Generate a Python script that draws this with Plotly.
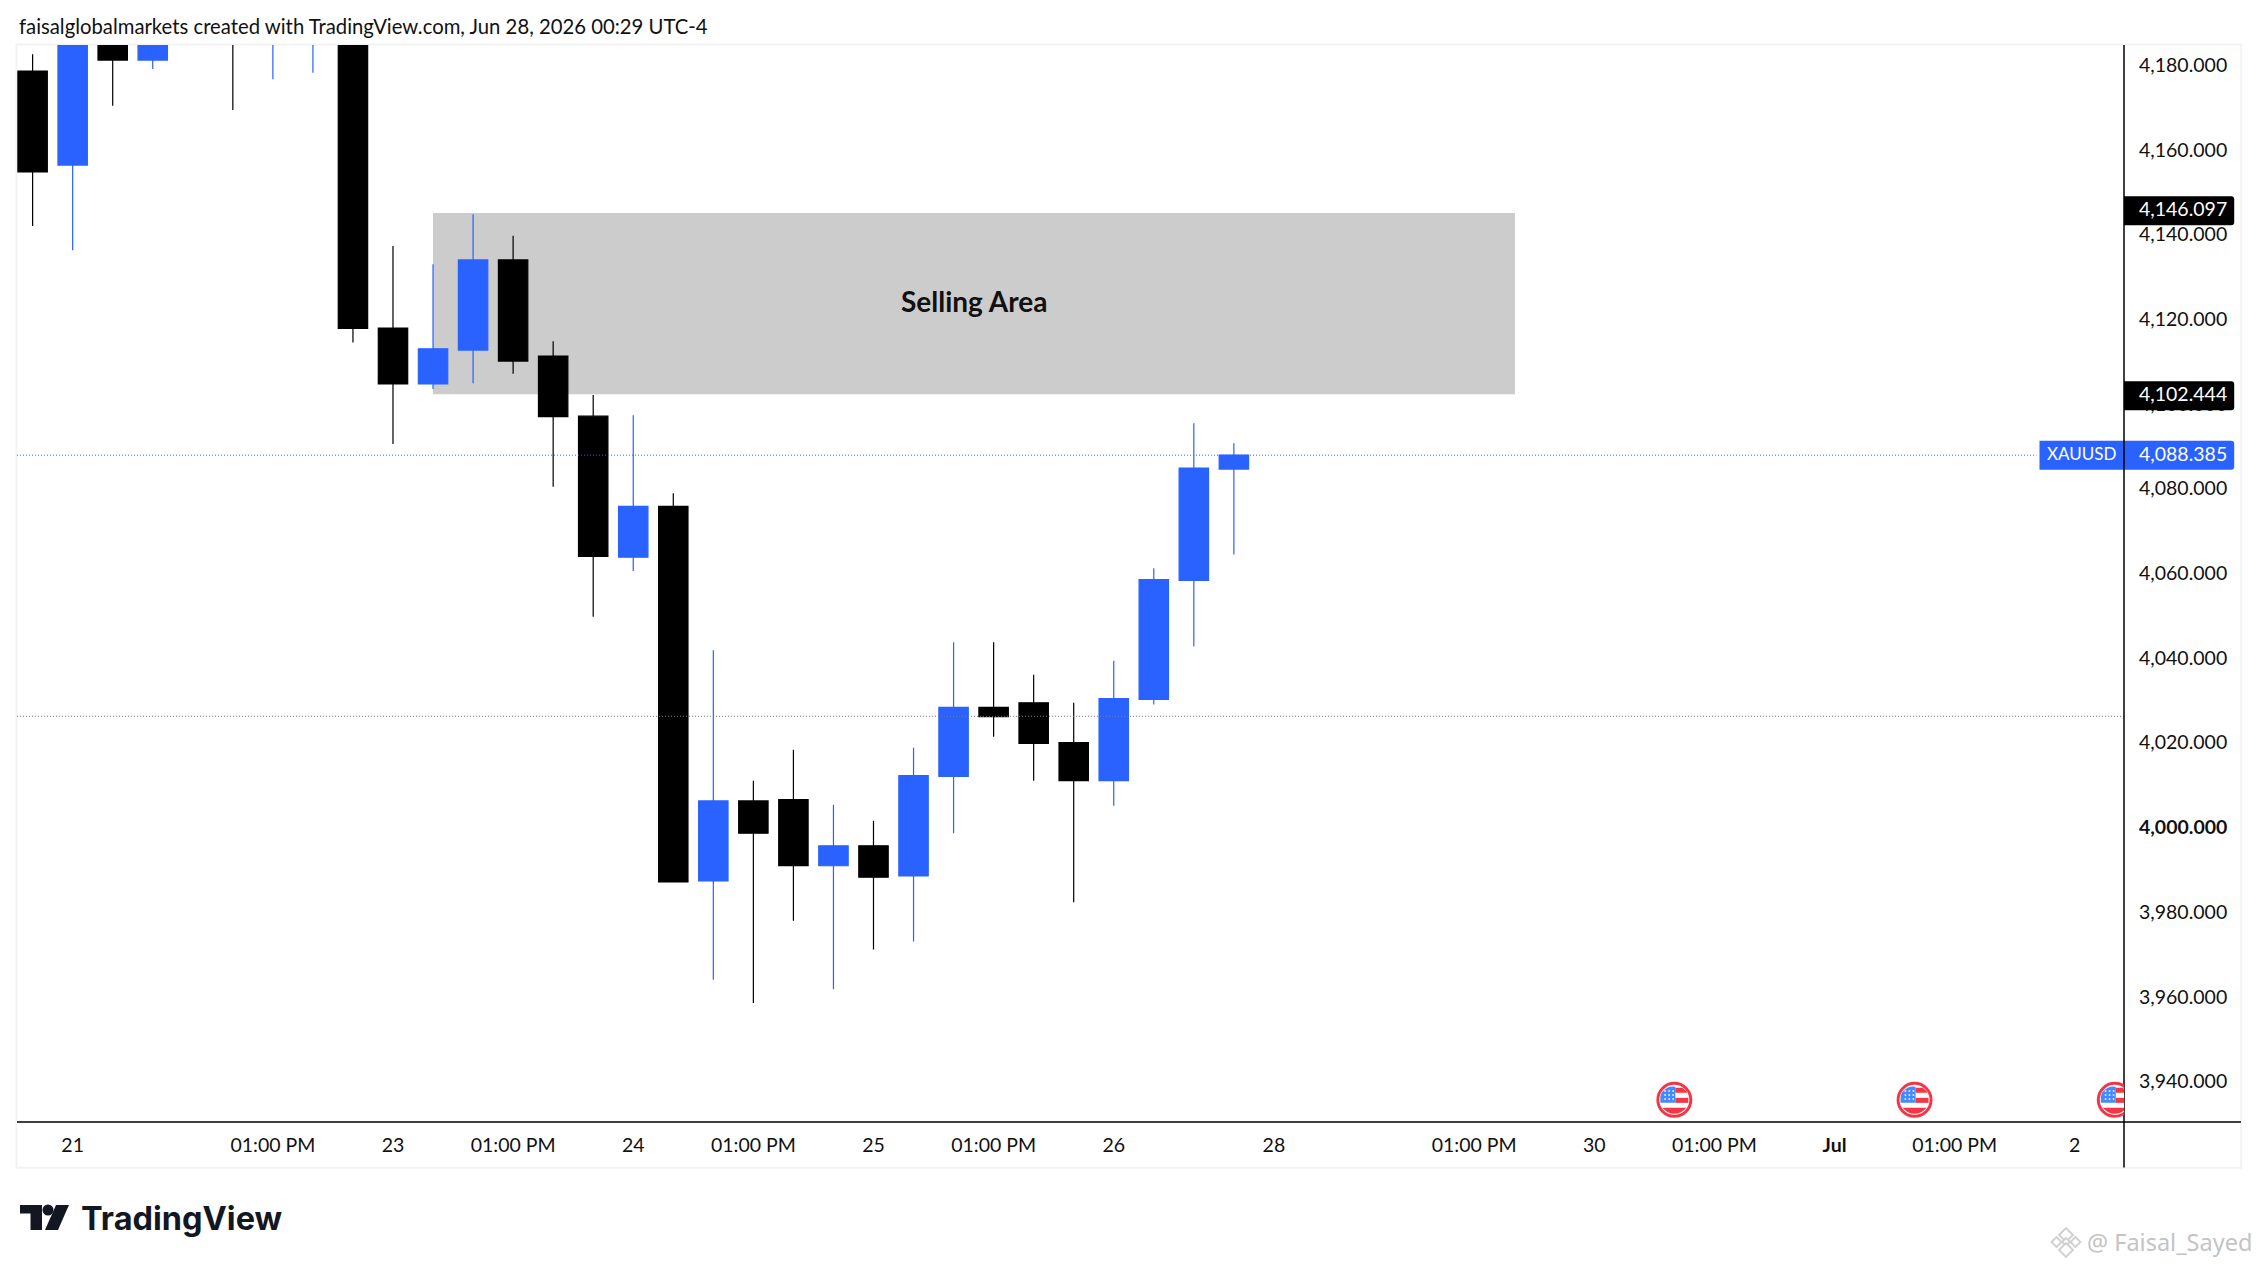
import plotly.graph_objects as go

W, H = 2259, 1267
L, R, T, B = 17, 2124.5, 45, 1122

idx = list(range(31))
opens = [4179.1, 4156.9, 4192.0, 4181.7, 4210.0, 4215.0, 4200.0, 4205.0, 4205.0, 4118.4, 4105.2, 4113.2, 4134.5, 4111.8, 4097.6, 4064.3,
         4076.3, 3987.8, 4006.7, 4007.0, 3991.4, 3996.1, 3989.0, 4012.5, 4028.8, 4029.9, 4020.5, 4011.5, 4030.7, 4058.8, 4085.1]
highs = [4183.1, 4195.0, 4198.0, 4200.0, 4222.0, 4225.0, 4230.0, 4235.0, 4208.0, 4137.8, 4133.5, 4145.3, 4140.2, 4115.3, 4102.6, 4097.8,
         4079.4, 4042.3, 4011.5, 4018.8, 4005.8, 4002.0, 4019.3, 4044.2, 4044.2, 4036.5, 4029.9, 4039.8, 4061.7, 4095.95, 4091.2]
lows = [4142.5, 4136.8, 4170.9, 4179.6, 4195.0, 4169.9, 4177.2, 4178.7, 4115.0, 4091.0, 4104.0, 4105.4, 4107.6, 4080.9, 4050.2, 4061.0,
        3987.6, 3964.5, 3959.0, 3978.4, 3962.2, 3971.6, 3973.5, 3999.1, 4021.9, 4011.5, 3982.8, 4005.6, 4029.5, 4043.2, 4064.9]
closes = [4155.3, 4190.0, 4181.7, 4195.0, 4200.0, 4205.0, 4215.0, 4220.0, 4118.3, 4105.2, 4113.5, 4134.5, 4110.6, 4097.5, 4064.5, 4076.3,
          3987.6, 4006.7, 3999.1, 3991.4, 3996.1, 3988.7, 4012.7, 4028.8, 4026.6, 4020.3, 4011.5, 4030.9, 4059.0, 4085.35, 4088.385]

price_ticks = [3940, 3960, 3980, 4000, 4020, 4040, 4060, 4080, 4100, 4120, 4140, 4160, 4180]
price_labels = ['3,940.000', '3,960.000', '3,980.000', '<b>4,000.000</b>', '4,020.000', '4,040.000', '4,060.000', '4,080.000',
                '4,100.000', '4,120.000', '4,140.000', '4,160.000', '4,180.000']
time_ticks = [1, 6, 9, 12, 15, 18, 21, 24, 27, 31, 36, 39, 42, 45, 48, 51]
time_labels = ['21', '01:00 PM', '23', '01:00 PM', '24', '01:00 PM', '25', '01:00 PM', '26', '28', '01:00 PM', '30', '01:00 PM',
               '<b>Jul</b>', '01:00 PM', '2']

zone_left, zone_right = 10.0, 37.02
zone_top, zone_bottom = 4145.6, 4102.8
last_price = 4088.385
grey_level = 4026.7
flag_idx = [41, 47, 52]
flag_y = 3936.1

BLUE = '#2962FF'
FONT = 'Lato'
INK = '#111111'


def fx(px):
    return (px - L) / (R - L)


def fy(py):
    return (B - py) / (B - T)


def page_rect(x0, y0, x1, y1, **kw):
    return dict(type='rect', xref='paper', yref='paper', x0=fx(x0), x1=fx(x1), y0=fy(y0), y1=fy(y1), **kw)


def page_line(x0, y0, x1, y1, color, width=1.5):
    return dict(type='line', xref='paper', yref='paper', x0=fx(x0), x1=fx(x1), y0=fy(y0), y1=fy(y1),
                line=dict(color=color, width=width))


def page_path(points, color):
    d = 'M' + ' L'.join(f'{fx(a):.5f},{fy(b):.5f}' for a, b in points) + ' Z'
    return dict(type='path', xref='paper', yref='paper', path=d, fillcolor=color, line=dict(width=0))


def page_text(x, y, text, size, color=INK, anchor='left', family=FONT):
    return dict(xref='paper', yref='paper', x=fx(x), y=fy(y), text=text, showarrow=False, xanchor=anchor, yanchor='middle',
                font=dict(family=family, size=size, color=color))


def pill(value, x0, x1, color):
    # rounded on the right, flat against the axis unless it starts further left
    a, b = x0 - R, x1 - R
    return dict(type='path', layer='above', xref='paper', yref='y', xsizemode='pixel', xanchor=1, ysizemode='pixel', yanchor=value,
                path=f'M{a},-14.5 L{b - 3},-14.5 Q{b},-14.5 {b},-11.5 L{b},11.5 Q{b},14.5 {b - 3},14.5 L{a},14.5 Z',
                fillcolor=color, line=dict(width=0))


def flag_shapes(i):
    # small US flag calendar badge, offsets in pixels from the marker centre
    red, blue = '#F23645', '#448AFF'
    base = dict(type='path', layer='above', xref='x', yref='y', xsizemode='pixel', xanchor=i, ysizemode='pixel', yanchor=flag_y,
                line=dict(width=0))
    out = [dict(type='circle', layer='above', xref='x', yref='y', xsizemode='pixel', xanchor=i, ysizemode='pixel', yanchor=flag_y,
                x0=-16.5, x1=16.5, y0=-16.5, y1=16.5, fillcolor='white', line=dict(color=red, width=3))]
    out.append(dict(base, path='M1,12 L8,12 Q12,9 13,7 L1,7 Z', fillcolor=red))
    out.append(dict(base, path='M1,2 L14,2 L14,-3 L1,-3 Z', fillcolor=red))
    out.append(dict(base, path='M-12,-8 L12,-8 Q7,-14 0,-14 Q-7,-14 -12,-8 Z', fillcolor=red))
    out.append(dict(base, path='M1,13 L1,-3 L-14,-3 L-14,3 Q-13,9 -7,12 Q-3,14 1,13 Z', fillcolor=blue))
    stars = ''
    for sx in (-10, -6, -2):
        for sy in (0, 4, 8):
            stars += f'M{sx},{sy} L{sx + 1.6},{sy} L{sx + 1.6},{sy + 1.6} L{sx},{sy + 1.6} Z '
    out.append(dict(base, path=stars, fillcolor='white'))
    return out


fig = go.Figure(go.Candlestick(
    x=idx, open=opens, high=highs, low=lows, close=closes,
    increasing=dict(line=dict(color=BLUE, width=1.2), fillcolor=BLUE),
    decreasing=dict(line=dict(color='#000000', width=1.2), fillcolor='#000000'),
    hoverinfo='skip', showlegend=False,
))

shapes = [
    page_rect(16.5, 44.5, 2241.7, 1167.7, line=dict(color='#F3F3F3', width=2), layer='below'),
    dict(type='rect', layer='below', xref='x', yref='y', x0=zone_left, x1=zone_right, y0=zone_bottom, y1=zone_top,
         fillcolor='#CCCCCC', line=dict(width=0)),
    dict(type='line', layer='above', xref='paper', yref='y', x0=0, x1=1, y0=grey_level, y1=grey_level,
         line=dict(color='#787B86', width=1, dash='1px 2px')),
    dict(type='line', layer='above', xref='paper', yref='y', x0=0, x1=fx(2037), y0=last_price, y1=last_price,
         line=dict(color=BLUE, width=1, dash='1px 2px')),
    pill(4146.097, R, 2234.7, '#000000'),
    pill(4102.444, R, 2234.7, '#000000'),
    pill(last_price, 2040, 2234.7, BLUE),
    page_line(R, T, R, 1167.5, '#000000'),
    page_line(L, B, 2241.5, B, '#000000'),
    # logo
    page_path([(20, 1205), (42, 1205), (42, 1230), (30.5, 1230), (30.5, 1213.5), (20, 1213.5)], '#131722'),
    dict(type='circle', xref='paper', yref='paper', x0=fx(42.5), x1=fx(53.5), y0=fy(1204.5), y1=fy(1215.5),
         fillcolor='#131722', line=dict(width=0)),
    page_path([(56, 1205), (69, 1205), (58, 1230), (45, 1230)], '#131722'),
]
# watermark diamonds
for cx, cy, r in [(2066.5, 1235, 7), (2057, 1242, 5), (2076, 1242, 5), (2066.5, 1242, 4), (2066.5, 1250, 7)]:
    shapes.append(dict(type='path', xref='paper', yref='paper',
                       path=f'M{fx(cx - r):.5f},{fy(cy):.5f} L{fx(cx):.5f},{fy(cy - r):.5f} L{fx(cx + r):.5f},{fy(cy):.5f} L{fx(cx):.5f},{fy(cy + r):.5f} Z',
                       fillcolor='white', line=dict(color='#CFCFCF', width=1.8)))
for i in flag_idx:
    shapes += flag_shapes(i)


def pill_text(x, value, text, size=19.5):
    return dict(xref='paper', yref='y', x=fx(x), y=value, yshift=2, text=text, showarrow=False, xanchor='center', yanchor='middle',
                font=dict(family=FONT, size=size, color='white'))


annotations = [
    page_text(17, 26, 'faisalglobalmarkets created with TradingView.com, Jun 28, 2026 00:29 UTC-4', 20.3),
    dict(xref='x', yref='y', x=(zone_left + zone_right) / 2, y=4124.8, text='<b>Selling Area</b>', showarrow=False,
         font=dict(family=FONT, size=28, color=INK)),
    pill_text(2184, 4146.097, '4,146.097'),
    pill_text(2184, 4102.444, '4,102.444'),
    pill_text(2184, last_price, '4,088.385'),
    pill_text(2081.7, last_price, 'XAUUSD', size=17),
    page_text(79, 1218, '<b>TradingView</b>', 32.5, color='#131722', family='Inter'),
    page_text(2085, 1242, '@ Faisal_Sayed', 23.5, color='#C4C4C4', family='Noto Sans'),
]

fig.update_layout(
    width=W, height=H,
    margin=dict(l=L, r=W - R, t=T, b=H - B, pad=0),
    paper_bgcolor='white', plot_bgcolor='white',
    boxgap=0.266, boxgroupgap=0,
    hovermode=False,
    shapes=shapes,
    annotations=annotations,
    xaxis=dict(range=[-0.39, 52.23], rangeslider=dict(visible=False), showgrid=False, zeroline=False, showline=False,
               tickmode='array', tickvals=time_ticks, ticktext=time_labels, ticks='', ticklabelstandoff=9,
               tickfont=dict(family=FONT, size=19.5, color=INK)),
    yaxis=dict(range=[3930.87, 4185.27], side='right', showgrid=False, zeroline=False, showline=False,
               tickmode='array', tickvals=price_ticks, ticktext=price_labels, ticks='', ticklabelstandoff=14, ticklabelshift=-2,
               tickfont=dict(family=FONT, size=19.5, color=INK)),
)

fig.write_html("out.html", config=dict(displayModeBar=False), post_script="document.body.style.margin='0';")
